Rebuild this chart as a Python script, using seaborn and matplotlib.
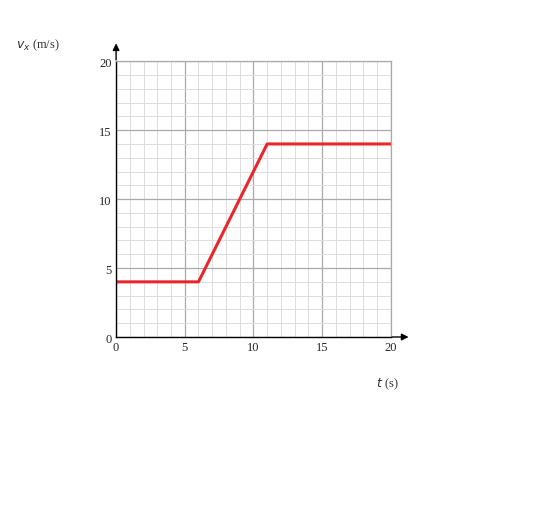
import seaborn as sns
import matplotlib.pyplot as plt
import numpy as np

t = [0, 6, 11, 20]
vx = [4, 4, 14, 14]
ticks = [0, 5, 10, 15, 20]

sns.set_style('white')
plt.rcParams['font.family'] = ['Liberation Serif', 'DejaVu Serif']

fig = plt.figure(figsize=(5.45, 5.06), dpi=100)
ax = fig.add_axes([0.213, 0.332, 0.504, 0.545])

ax.set_xticks(np.arange(0, 21, 1), minor=True)
ax.set_yticks(np.arange(0, 21, 1), minor=True)
ax.set_xticks(ticks)
ax.set_yticks(ticks)
ax.grid(which='minor', color='#dddddd', linewidth=0.7)
ax.grid(which='major', color='#aaaaaa', linewidth=0.9)
ax.set_axisbelow(True)

sns.lineplot(x=t, y=vx, ax=ax, color='#e8262b', linewidth=2.2)

ax.set_xlim(0, 20)
ax.set_ylim(0, 20)
for s in ['top', 'right']:
    ax.spines[s].set_color('#aaaaaa')
    ax.spines[s].set_linewidth(0.9)
for s in ['left', 'bottom']:
    ax.spines[s].set_color('black')
    ax.spines[s].set_linewidth(1.0)
ax.tick_params(which='both', length=0, labelsize=9, pad=3)
ax.set_xticklabels([str(v) for v in ticks])
ax.set_yticklabels([str(v) for v in ticks])

# axis arrows
ax.annotate('', xy=(0, 21.5), xytext=(0, 19.9), xycoords='data',
            arrowprops=dict(arrowstyle='-|>', color='black', lw=1), annotation_clip=False)
ax.annotate('', xy=(21.5, 0), xytext=(19.9, 0), xycoords='data',
            arrowprops=dict(arrowstyle='-|>', color='black', lw=1), annotation_clip=False)

fig.text(0.03, 0.905, r'$v_x$ (m/s)', fontsize=9, color='#333333')
fig.text(0.69, 0.235, r'$t$ (s)', fontsize=9, color='#333333')

fig.savefig('out.png')
